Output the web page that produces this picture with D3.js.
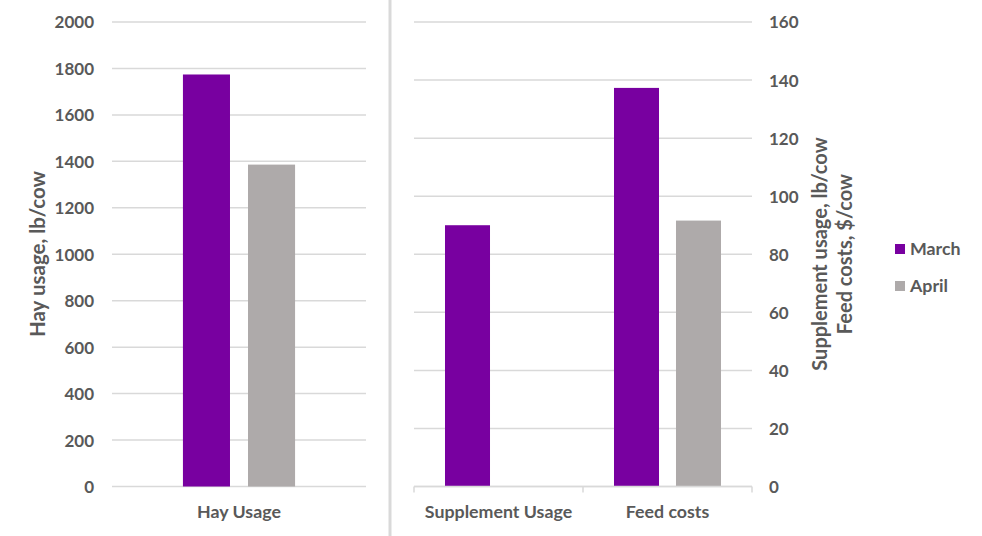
<!DOCTYPE html>
<html>
<head>
<meta charset="utf-8">
<script src="https://cdn.jsdelivr.net/npm/d3@7"></script>
<style>
  body { margin: 0; background: #fff; }
  text { font-family: Lato, "Open Sans", sans-serif; font-weight: bold; fill: #595959; }
</style>
</head>
<body>
<svg width="982" height="536"></svg>
<script>
// data
const months = ["March", "April"];
const colors = ["#7800a0", "#aeaaaa"];

const hayCats = ["Hay Usage"];
const hayMarch = [1774];
const hayApril = [1386];
const hayTicks = [0, 200, 400, 600, 800, 1000, 1200, 1400, 1600, 1800, 2000];

const rightCats = ["Supplement Usage", "Feed costs"];
const rightMarch = [90, 137.3];
const rightApril = [null, 91.6];
const rightTicks = [0, 20, 40, 60, 80, 100, 120, 140, 160];

const svg = d3.select("svg");
const plotTop = 22, plotBottom = 486.5;

function panel(cats, march, april, ticks, x0r, innerPad, outerPad) {
    const rows = cats.map((c, i) => ({cat: c, vals: [march[i], april[i]]}));
    const x0 = d3.scaleBand().domain(cats).range(x0r).padding(0);
    const x1 = d3.scaleBand().domain(months).range([0, x0.bandwidth()])
        .paddingInner(innerPad).paddingOuter(outerPad);
    const y = d3.scaleLinear().domain([0, d3.max(ticks)]).range([plotBottom, plotTop]);

    // gridlines
    svg.append("g")
        .selectAll("line")
        .data(ticks)
        .enter()
        .append("line")
        .attr("x1", x0r[0]).attr("x2", x0r[1])
        .attr("y1", d => y(d)).attr("y2", d => y(d))
        .attr("stroke", "#d9d9d9")
        .attr("stroke-width", 1.5);

    const g = svg.append("g")
        .selectAll("g")
        .data(rows)
        .enter()
        .append("g")
        .attr("transform", d => "translate(" + x0(d.cat) + ",0)");
    g.selectAll("rect")
        .data(d => d.vals.map((v, i) => ({m: months[i], v: v, c: colors[i]})).filter(d => d.v != null))
        .enter()
        .append("rect")
        .attr("x", d => x1(d.m))
        .attr("width", x1.bandwidth())
        .attr("y", d => y(d.v))
        .attr("height", d => plotBottom - y(d.v))
        .attr("fill", d => d.c);

    // category labels
    svg.append("g")
        .selectAll("text")
        .data(cats)
        .enter()
        .append("text")
        .attr("x", d => x0(d) + x0.bandwidth() / 2)
        .attr("y", 518)
        .attr("text-anchor", "middle")
        .attr("font-size", 17.8)
        .text(d => d);
    return {x0: x0, y: y};
}

// left panel
const L = panel(hayCats, hayMarch, hayApril, hayTicks, [112, 366], 0.277, 1.09);
const leftAxis = svg.append("g")
    .attr("transform", "translate(112,0)")
    .call(d3.axisLeft(L.y).tickValues(hayTicks).tickFormat(d3.format("d")).tickSize(0).tickPadding(18));
leftAxis.select(".domain").remove();
leftAxis.selectAll("text").attr("font-size", 17).attr("dy", "0.35em")
    .style("font-family", "Lato, sans-serif").attr("fill", "#595959");

svg.append("text")
    .attr("transform", "translate(38,254) rotate(-90)")
    .attr("text-anchor", "middle")
    .attr("dy", "0.35em")
    .attr("font-size", 20.5)
    .text("Hay usage, lb/cow");

// separator
svg.append("line")
    .attr("x1", 390).attr("x2", 390).attr("y1", 0).attr("y2", 536)
    .attr("stroke", "#d9d9d9").attr("stroke-width", 3);

// right panel
const R = panel(rightCats, rightMarch, rightApril, rightTicks, [414, 752], 0.274, 0.5);
const bottomAxis = svg.append("g")
    .attr("transform", "translate(0," + plotBottom + ")");
bottomAxis.append("line")
    .attr("x1", 414).attr("x2", 752)
    .attr("stroke", "#d9d9d9").attr("stroke-width", 1.5);
bottomAxis.selectAll("line.tk")
    .data(R.x0.domain().map(d => R.x0(d)).concat([752]))
    .enter()
    .append("line")
    .attr("class", "tk")
    .attr("x1", d => d).attr("x2", d => d)
    .attr("y1", 0).attr("y2", 6)
    .attr("stroke", "#d9d9d9").attr("stroke-width", 1.5);

const rightAxis = svg.append("g")
    .attr("transform", "translate(752,0)")
    .call(d3.axisRight(R.y).tickValues(rightTicks).tickFormat(d3.format("d")).tickSize(0).tickPadding(17));
rightAxis.select(".domain").remove();
rightAxis.selectAll("text").attr("font-size", 17).attr("dy", "0.35em")
    .style("font-family", "Lato, sans-serif").attr("fill", "#595959");

svg.append("text")
    .attr("transform", "translate(820,254) rotate(-90)")
    .attr("text-anchor", "middle")
    .attr("dy", "0.35em")
    .attr("font-size", 20)
    .text("Supplement usage, lb/cow");
svg.append("text")
    .attr("transform", "translate(845,254) rotate(-90)")
    .attr("text-anchor", "middle")
    .attr("dy", "0.35em")
    .attr("font-size", 20)
    .text("Feed costs, $/cow");

// legend
const legend = svg.append("g")
    .selectAll("g")
    .data(months)
    .enter()
    .append("g")
    .attr("transform", (d, i) => "translate(895," + (244 + i * 37) + ")");
legend.append("rect")
    .attr("width", 10).attr("height", 10)
    .attr("fill", (d, i) => colors[i]);
legend.append("text")
    .attr("x", 15).attr("y", 10.5)
    .attr("font-size", 17.8)
    .text(d => d);
</script>
</body>
</html>
